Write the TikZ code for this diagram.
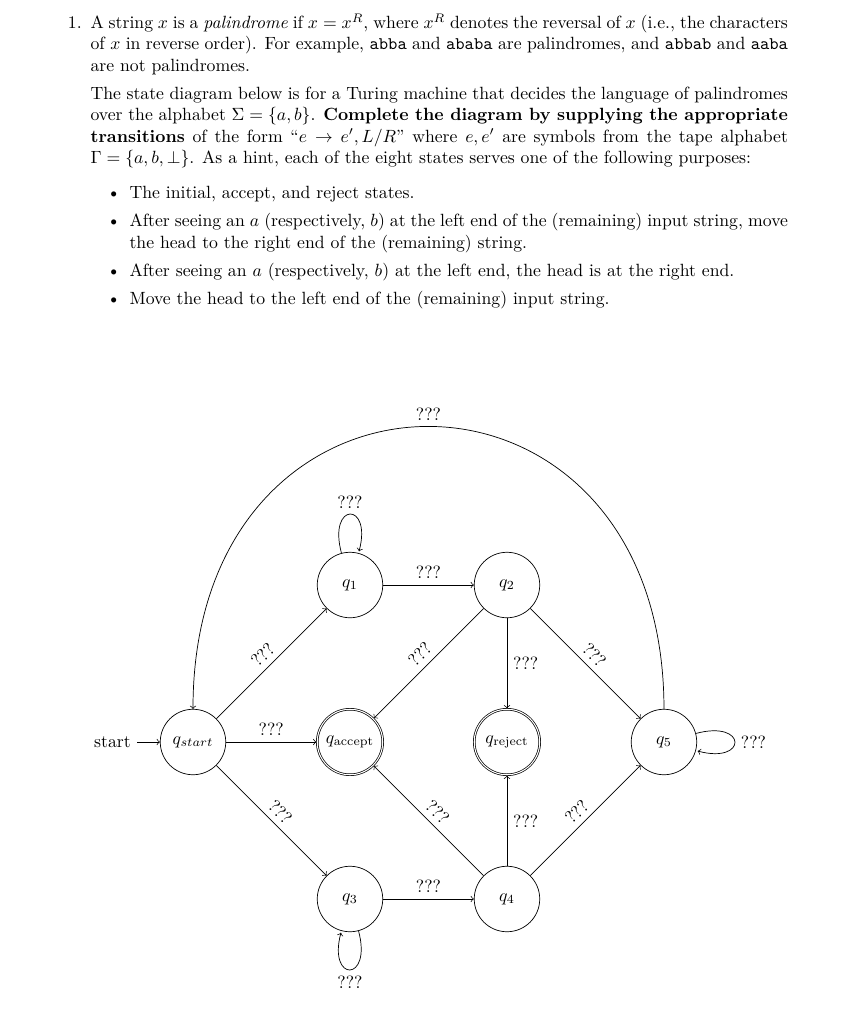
\documentclass[tikz,border=0pt]{standalone}
\usepackage{amsmath}
\usepackage{amssymb}
\usetikzlibrary{arrows,automata}
\usetikzlibrary{positioning}

\begin{document}
\begin{tikzpicture}[x=0.565pt,y=0.565pt,->,auto,node distance=88.7pt,thin]
  \tikzstyle{every state}=[draw,circle,minimum size=37pt,inner sep=0pt]
  \tikzstyle{qs}=[sloped,above]
  \useasboundingbox (0,0) rectangle (859,-1024);

  % problem text
  \node[anchor=north west,text width=419pt,inner sep=0pt,align=justify] (problem) at (46,7) {%
    \begin{enumerate}
    \item A string $x$ is a \emph{palindrome} if $x = x^R$, where $x^R$ denotes the reversal of $x$ (i.e., the characters of $x$ in reverse order). For example, \texttt{abba} and \texttt{ababa} are palindromes, and \texttt{abbab} and \texttt{aaba} are not palindromes.

    The state diagram below is for a Turing machine that decides the language of palindromes over the alphabet $\Sigma = \{a,b\}$. \textbf{Complete the diagram by supplying the appropriate transitions} of the form ``$e \rightarrow e', L/R$'' where $e,e'$ are symbols from the tape alphabet $\Gamma = \{a,b,\bot\}$. As a hint, each of the eight states serves one of the following purposes:
    \begin{itemize}
    \item The initial, accept, and reject states.
    \item After seeing an $a$ (respectively, $b$) at the left end of the (remaining) input string, move the head to the right end of the (remaining) string.
    \item After seeing an $a$ (respectively, $b$) at the left end, the head is at the right end.
    \item Move the head to the left end of the (remaining) input string.
    \end{itemize}
    \end{enumerate}};

  % states
  \node[state,initial,initial text=start] (qstart) at (193,-742) {$q_{start}$};
  \node[state,accepting] (qaccept) [right of=qstart] {$q_{\text{accept}}$};
  \node[state] (q1) [above of=qaccept] {$q_1$};
  \node[state] (q3) [below of=qaccept] {$q_3$};
  \node[state] (q2) [right of=q1] {$q_2$};
  \node[state,accepting] (qreject) [right of=qaccept] {$q_{\text{reject}}$};
  \node[state] (q4) [right of=q3] {$q_4$};
  \node[state] (q5) [right of=qreject] {$q_5$};

  \path
    (qstart) edge node[qs] {???} (q1)
    (qstart) edge node {???} (qaccept)
    (qstart) edge node[qs] {???} (q3)
    (q1) edge [loop above] node {???} ()
    (q1) edge node {???} (q2)
    (q2) edge node[qs] {???} (qaccept)
    (q2) edge node {???} (qreject)
    (q2) edge node[qs] {???} (q5)
    (q5) edge [loop right] node {???} ()
    (q5) edge [out=90,in=90,looseness=2.05] node[above] {???} (qstart)
    (q3) edge [loop below] node {???} ()
    (q3) edge node {???} (q4)
    (q4) edge node[qs] {???} (qaccept)
    (q4) edge node[swap] {???} (qreject)
    (q4) edge node[qs] {???} (q5)
    ;
\end{tikzpicture}
\end{document}
